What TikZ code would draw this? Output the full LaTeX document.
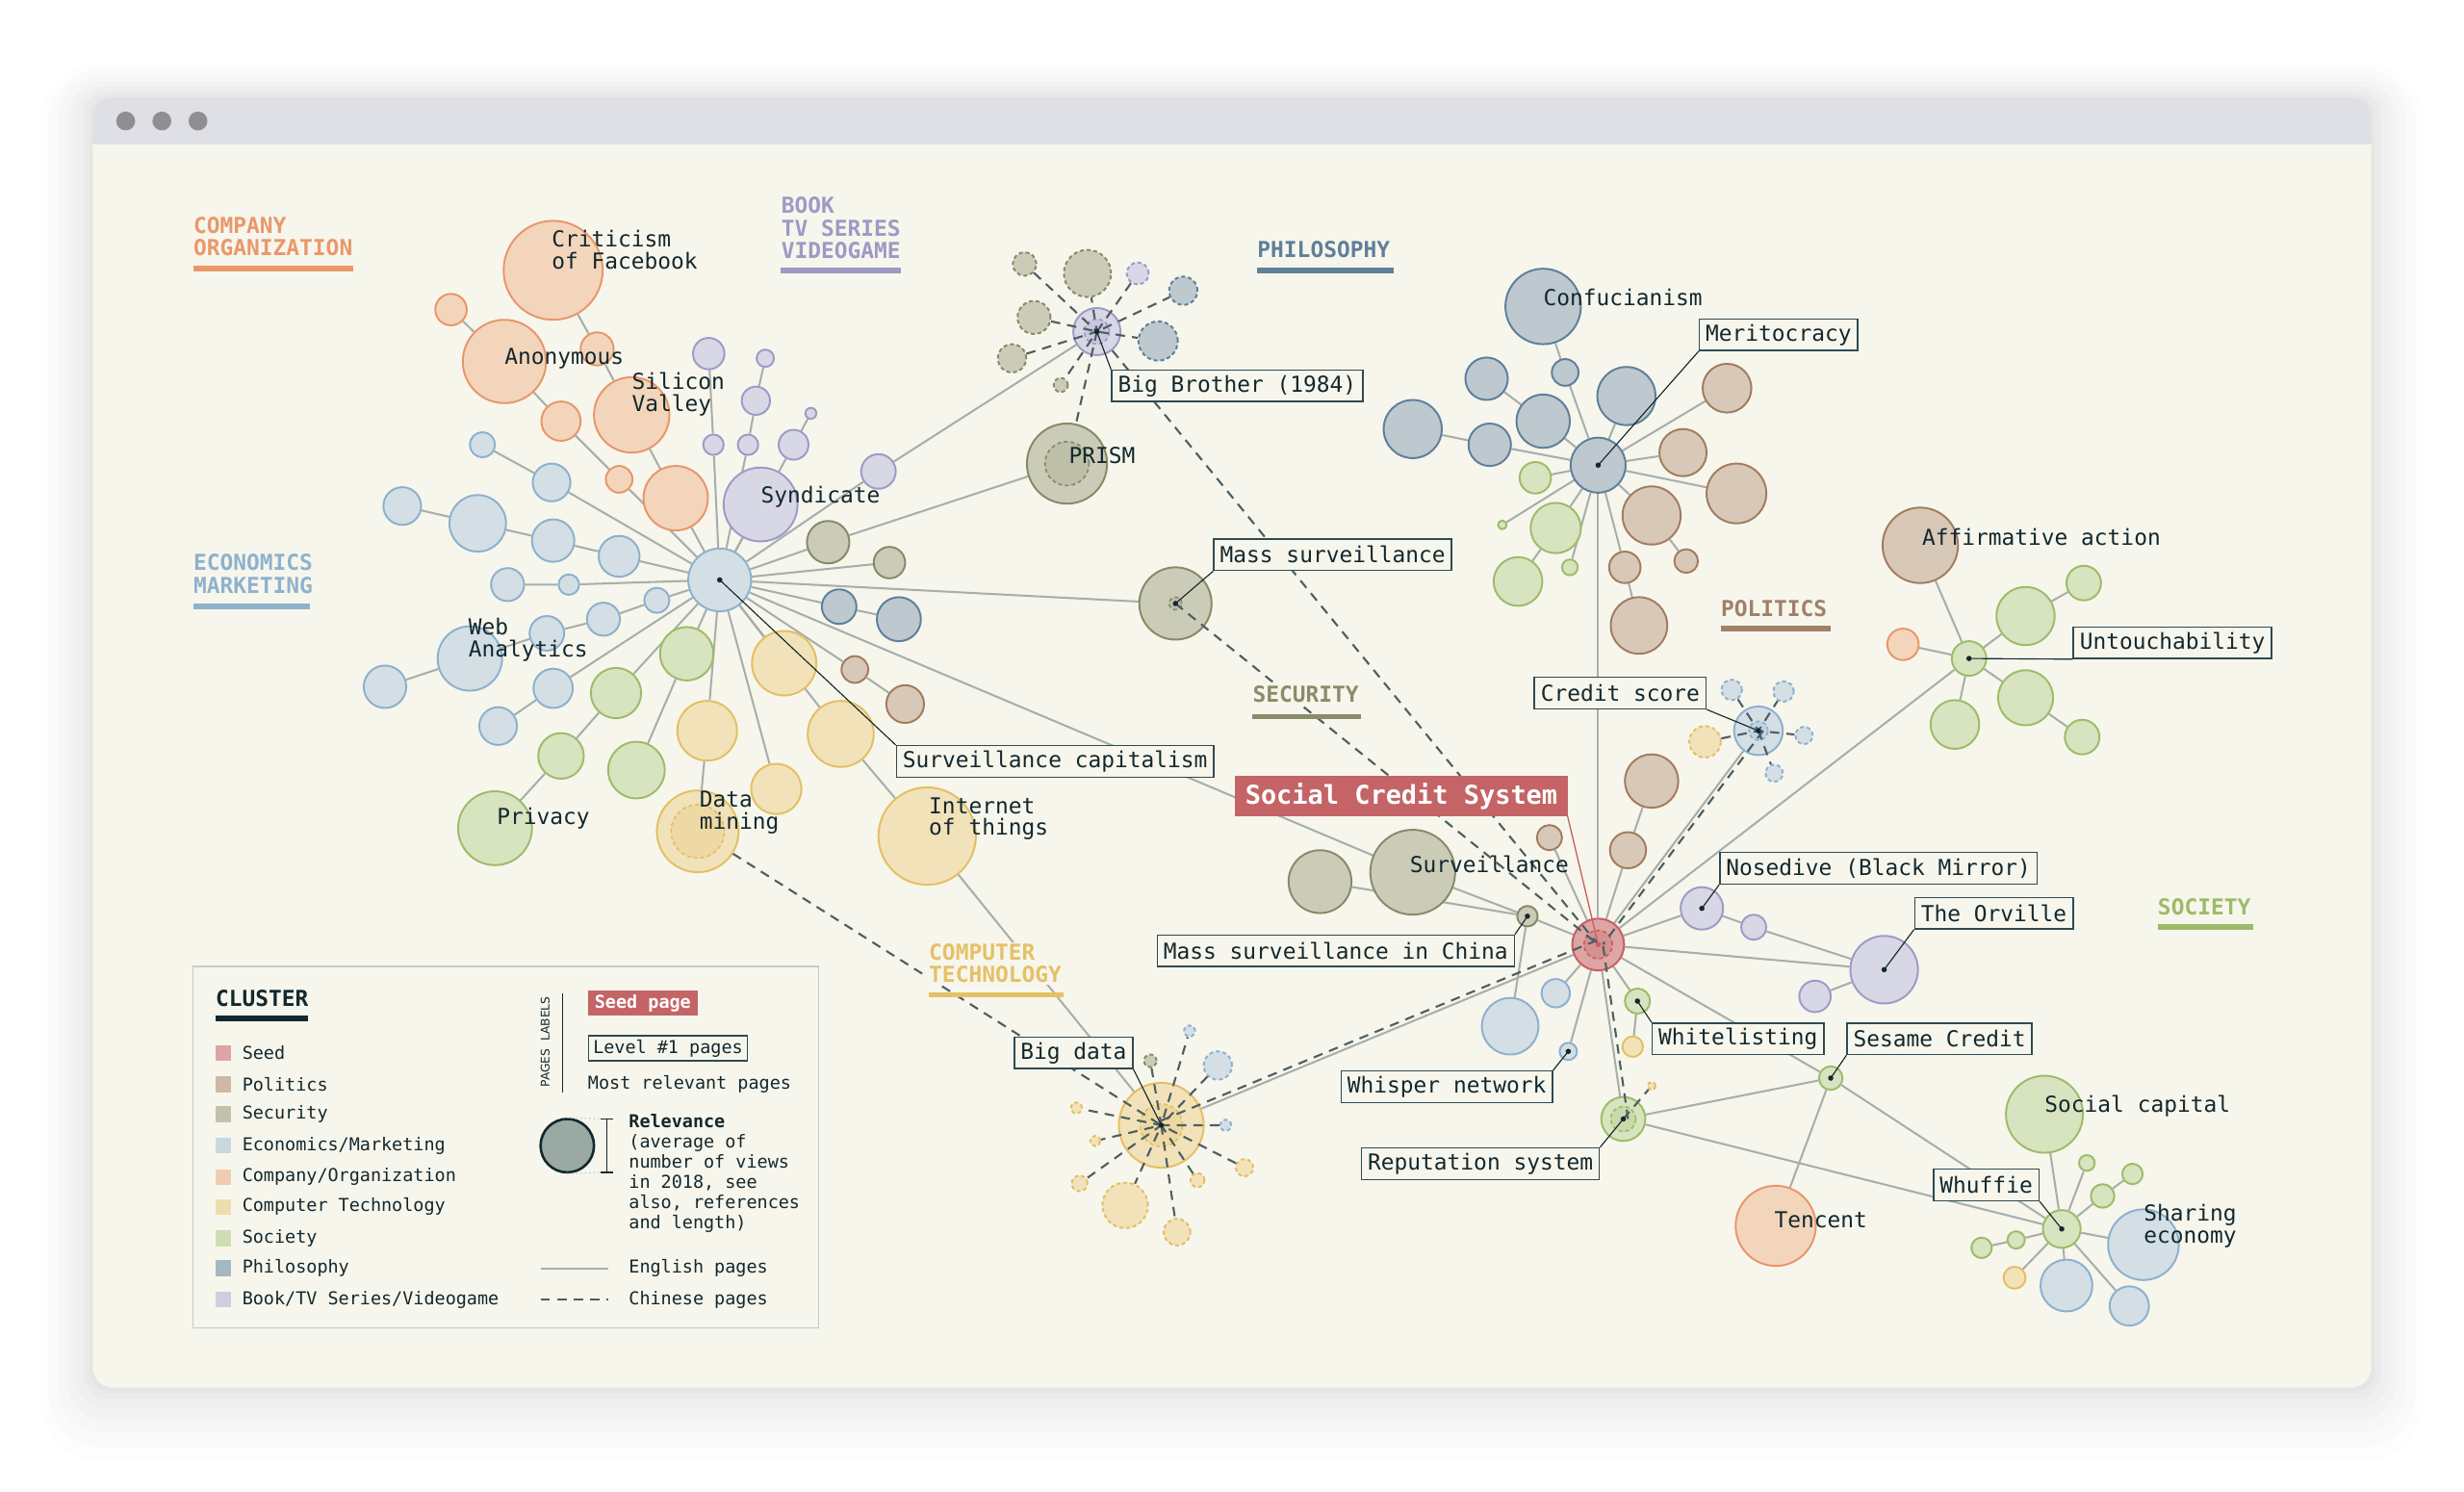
\documentclass[tikz,border=0pt]{standalone}
\usepackage{fontspec}
\setmainfont{DejaVu Sans Mono}
\newfontfamily\sanslab{DejaVu Sans}
\pgfdeclarelayer{win}
\pgfdeclarelayer{links}
\pgfdeclarelayer{front}
\pgfsetlayers{win,links,main,front}

\definecolor{bg}{HTML}{F7F6EC}
\definecolor{barC}{HTML}{DFE0E5}
\definecolor{dotC}{HTML}{8E8E93}
\definecolor{linkC}{HTML}{A7AFAB}
\definecolor{cnC}{HTML}{4D5F63}
\definecolor{ink}{HTML}{13282E}
\definecolor{boxC}{HTML}{2E4A52}
\definecolor{legC}{HTML}{C5CBC6}
\definecolor{relC}{HTML}{9BA9A4}
\definecolor{seedF}{HTML}{DDA5A4}\definecolor{seedS}{HTML}{C45F62}\definecolor{seedT}{HTML}{C46466}
\definecolor{polF}{HTML}{D8C8B7}\definecolor{polS}{HTML}{A27C60}\definecolor{polT}{HTML}{A0806A}
\definecolor{secF}{HTML}{CBCCB7}\definecolor{secS}{HTML}{878A68}\definecolor{secT}{HTML}{8A8C6A}
\definecolor{ecoF}{HTML}{D3DFE4}\definecolor{ecoS}{HTML}{8DB0CF}\definecolor{ecoT}{HTML}{8FB1CE}
\definecolor{comF}{HTML}{F3D5BC}\definecolor{comS}{HTML}{E9966A}\definecolor{comT}{HTML}{E9986B}
\definecolor{tecF}{HTML}{F1E2BA}\definecolor{tecS}{HTML}{E4BF63}\definecolor{tecT}{HTML}{E5C067}
\definecolor{socF}{HTML}{D8E3BF}\definecolor{socS}{HTML}{9DBC6A}\definecolor{socT}{HTML}{9DBA69}
\definecolor{phiF}{HTML}{BDC9CE}\definecolor{phiS}{HTML}{5E7F9C}\definecolor{phiT}{HTML}{5F7F9A}
\definecolor{booF}{HTML}{D8D7E5}\definecolor{booS}{HTML}{9D9BC7}\definecolor{booT}{HTML}{9C9AC6}

\newcommand\lblfont{\fontsize{14}{14}\selectfont}
\newcommand\catfont{\bfseries\fontsize{14}{14.5}\selectfont}
\newcommand\legfont{\fontsize{11.3}{12.8}\selectfont}

\tikzset{
  bub/.style  = {circle, inner sep=0pt, line width=1.2pt},
  seed/.style = {bub, draw=seedS, fill=seedF},
  pol/.style  = {bub, draw=polS, fill=polF},
  sec/.style  = {bub, draw=secS, fill=secF},
  eco/.style  = {bub, draw=ecoS, fill=ecoF},
  com/.style  = {bub, draw=comS, fill=comF},
  tec/.style  = {bub, draw=tecS, fill=tecF},
  soc/.style  = {bub, draw=socS, fill=socF},
  phi/.style  = {bub, draw=phiS, fill=phiF},
  boo/.style  = {bub, draw=booS, fill=booF},
  zh/.style   = {dash pattern=on 2.5pt off 1.8pt}, % chinese page only
  link/.style = {draw=linkC, line width=1.25pt},
  cn/.style   = {draw=cnC, line width=1.3pt, dash pattern=on 6pt off 4.5pt},
  leader/.style = {draw=ink, line width=0.7pt},
  lvl/.style  = {draw=boxC, fill=bg, line width=0.9pt, text=ink, font=\lblfont,
                 inner xsep=4pt, inner ysep=1.5pt, minimum height=20pt, anchor=west},
  ptag/.style = {text=ink, font=\lblfont, align=left, anchor=west, inner sep=0pt},
  cattl/.style = {font=\catfont, align=left, anchor=west, inner sep=1pt, fill=bg},
  catbar/.style = {line width=3.5pt},
  legtx/.style = {text=ink, font=\legfont, anchor=west, inner sep=0pt}
}

\begin{document}
\begin{tikzpicture}[x=1pt, y=-1pt]
\useasboundingbox (0,0) rectangle (1568,949);

\begin{pgfonlayer}{win}
\fill[white] (0,0) rectangle (1568,949);
% window shadow
\fill[black, opacity=0.008, rounded corners=40] (25,40) rectangle (1543,930);
\fill[black, opacity=0.010, rounded corners=34] (31,44) rectangle (1537,921);
\fill[black, opacity=0.012, rounded corners=28] (37,48) rectangle (1531,912);
\fill[black, opacity=0.014, rounded corners=23] (43,52) rectangle (1525,904);
\fill[black, opacity=0.016, rounded corners=19] (48,55) rectangle (1520,896);
\fill[black, opacity=0.018, rounded corners=16] (53,58) rectangle (1515,890);
\fill[black, opacity=0.02, rounded corners=14] (57,61) rectangle (1511,886);
\fill[bg, rounded corners=13] (59,62) rectangle (1509,883);
\begin{scope}
\clip[rounded corners=13] (59,62) rectangle (1509,883);
\fill[barC] (59,62) rectangle (1509,92);
\end{scope}
\fill[dotC] (80,77) circle[radius=6pt] (103,77) circle[radius=6pt] (126,77) circle[radius=6pt];
\end{pgfonlayer}

% economics hub and its ring
\node[eco, minimum size=40] (sc) at (458,369) {};
\node[eco, minimum size=24] (e1) at (351,307) {};
\node[eco, minimum size=16] (e2) at (307,283) {};
\node[eco, minimum size=26] (e3) at (394,354) {};
\node[eco, minimum size=27] (e4) at (352,344) {};
\node[eco, minimum size=36] (e5) at (304,333) {};
\node[eco, minimum size=24] (e6) at (256,322) {};
\node[eco, minimum size=13] (e7) at (362,372) {};
\node[eco, minimum size=21] (e8) at (323,372) {};
\node[eco, minimum size=16] (e9) at (418,382) {};
\node[eco, minimum size=21] (e10) at (384,394) {};
\node[eco, minimum size=22] (e11) at (348,403) {};
\node[eco, minimum size=41] (wa) at (299,419) {};
\node[eco, minimum size=27] (e12) at (245,437) {};
\node[eco, minimum size=25] (e13) at (352,438) {};
\node[eco, minimum size=24] (e14) at (317,462) {};
\node[soc, minimum size=32] (s1) at (392,441) {};
\node[soc, minimum size=29] (s2) at (357,481) {};
\node[soc, minimum size=47] (pv) at (315,527) {};
\node[soc, minimum size=34] (s3) at (437,416) {};
\node[soc, minimum size=36] (s4) at (405,490) {};
\node[tec, minimum size=38] (t1) at (450,465) {};
\node[tec, minimum size=52] (dm) at (444,529) {};
\node[tec, minimum size=32] (t2) at (494,502) {};
\node[tec, minimum size=41] (t3) at (499,422) {};
\node[tec, minimum size=42] (t4) at (535,467) {};
\node[tec, minimum size=62] (iot) at (590,532) {};
\node[pol, minimum size=17] (p1) at (544,426) {};
\node[pol, minimum size=24] (p2) at (576,448) {};
\node[phi, minimum size=22] (f1) at (534,386) {};
\node[phi, minimum size=28] (f2) at (572,394) {};
\node[sec, minimum size=27] (x1) at (527,345) {};
\node[sec, minimum size=20] (x2) at (566,358) {};
\node[boo, minimum size=47] (sy) at (484,321) {};
\node[boo, minimum size=13] (b1) at (454,283) {};
\node[boo, minimum size=20] (b2) at (451,225) {};
\node[boo, minimum size=13] (b3) at (476,283) {};
\node[boo, minimum size=18] (b4) at (481,255) {};
\node[boo, minimum size=11] (b5) at (487,228) {};
\node[boo, minimum size=19] (b6) at (505,283) {};
\node[boo, minimum size=7] (b7) at (516,263) {};
\node[boo, minimum size=22] (b8) at (559,300) {};
\node[com, minimum size=63] (cf) at (352,172) {};
\node[com, minimum size=21] (c1) at (380,222) {};
\node[com, minimum size=48] (sv) at (402,264) {};
\node[com, minimum size=41] (c2) at (430,317) {};
\node[com, minimum size=17] (c3) at (394,305) {};
\node[com, minimum size=25] (c4) at (357,268) {};
\node[com, minimum size=53] (an) at (321,230) {};
\node[com, minimum size=20] (c5) at (287,197) {};

% big brother group
\node[boo, minimum size=30] (bb) at (698,211) {};
\node[sec, zh, minimum size=15] (g1) at (652,168) {};
\node[sec, zh, minimum size=30] (g2) at (692,174) {};
\node[boo, zh, minimum size=14] (g3) at (724,174) {};
\node[phi, zh, minimum size=18] (g4) at (753,185) {};
\node[sec, zh, minimum size=21] (g5) at (658,202) {};
\node[phi, zh, minimum size=25] (g6) at (737,217) {};
\node[sec, zh, minimum size=18] (g7) at (644,228) {};
\node[sec, zh, minimum size=9] (g8) at (675,245) {};
\node[sec, minimum size=51] (pr) at (679,295) {};
\node[sec, minimum size=46] (ms) at (748,384) {};

% meritocracy group
\node[phi, minimum size=35] (mer) at (1017,296) {};
\node[phi, minimum size=48] (cz) at (982,195) {};
\node[phi, minimum size=17] (h1) at (996,237) {};
\node[phi, minimum size=27] (h2) at (946,241) {};
\node[phi, minimum size=34] (h3) at (982,268) {};
\node[phi, minimum size=37] (h4) at (899,273) {};
\node[phi, minimum size=27] (h5) at (948,283) {};
\node[phi, minimum size=37] (h6) at (1035,252) {};
\node[pol, minimum size=31] (q1) at (1099,247) {};
\node[pol, minimum size=30] (q2) at (1071,288) {};
\node[pol, minimum size=38] (q3) at (1105,314) {};
\node[pol, minimum size=37] (q4) at (1051,328) {};
\node[pol, minimum size=15] (q5) at (1073,357) {};
\node[pol, minimum size=20] (q6) at (1034,361) {};
\node[pol, minimum size=36] (q7) at (1043,398) {};
\node[soc, minimum size=20] (k1) at (977,304) {};
\node[soc, minimum size=32] (k2) at (990,336) {};
\node[soc, minimum size=5.5] (k3) at (956,334) {};
\node[soc, minimum size=10] (k4) at (999,361) {};
\node[soc, minimum size=31] (k5) at (966,370) {};

% untouchability group
\node[pol, minimum size=48] (aa) at (1222,347) {};
\node[soc, minimum size=22] (un) at (1253,419) {};
\node[soc, minimum size=37] (u1) at (1289,392) {};
\node[soc, minimum size=22] (u2) at (1326,371) {};
\node[com, minimum size=20] (u3) at (1211,410) {};
\node[soc, minimum size=35] (u4) at (1289,444) {};
\node[soc, minimum size=22] (u5) at (1325,469) {};
\node[soc, minimum size=31] (u6) at (1244,461) {};

% credit score
\node[eco, minimum size=31] (cs) at (1119,465) {};
\node[eco, zh, minimum size=13] (cs1) at (1102,439) {};
\node[eco, zh, minimum size=13] (cs2) at (1135,440) {};
\node[tec, zh, minimum size=20] (cs3) at (1085,472) {};
\node[eco, zh, minimum size=11] (cs4) at (1148,468) {};
\node[eco, zh, minimum size=11] (cs5) at (1129,492) {};

% seed and neighbours
\node[seed, minimum size=33] (scs) at (1017,601) {};
\node[pol, minimum size=23] (r1) at (1036,541) {};
\node[pol, minimum size=34] (r2) at (1051,497) {};
\node[pol, minimum size=16] (r3) at (986,533) {};
\node[sec, minimum size=40] (su2) at (840,561) {};
\node[sec, minimum size=54] (su) at (899,555) {};
\node[sec, minimum size=13] (mc) at (972,583) {};
\node[eco, minimum size=18] (w1) at (990,632) {};
\node[eco, minimum size=36] (w2) at (961,653) {};
\node[eco, minimum size=11] (wn) at (998,669) {};
\node[soc, minimum size=16] (wl) at (1042,637) {};
\node[tec, minimum size=13] (wl2) at (1039,666) {};
\node[boo, minimum size=27] (nd) at (1083,578) {};
\node[boo, minimum size=16] (nd2) at (1116,590) {};
\node[boo, minimum size=43] (orv) at (1199,617) {};
\node[boo, minimum size=20] (orv2) at (1155,634) {};
\node[soc, minimum size=15] (ses) at (1165,686) {};
\node[soc, minimum size=28] (rep) at (1033,712) {};
\node[tec, zh, minimum size=5] (rep1) at (1051,691) {};
\node[com, minimum size=51] (ten) at (1130,780) {};

% whuffie group
\node[soc, minimum size=24] (wh) at (1312,782) {};
\node[soc, minimum size=49] (scap) at (1301,709) {};
\node[soc, minimum size=10] (wf1) at (1328,740) {};
\node[soc, minimum size=15] (wf2) at (1338,761) {};
\node[soc, minimum size=13] (wf3) at (1357,747) {};
\node[eco, minimum size=45] (se) at (1364,792) {};
\node[eco, minimum size=25] (wf4) at (1355,831) {};
\node[eco, minimum size=33] (wf5) at (1315,818) {};
\node[tec, minimum size=14] (wf6) at (1282,813) {};
\node[soc, minimum size=11] (wf7) at (1283,789) {};
\node[soc, minimum size=13] (wf8) at (1261,794) {};

% big data group
\node[tec, minimum size=54] (bd) at (739,716) {};
\node[sec, zh, minimum size=8] (d1) at (732,675) {};
\node[eco, zh, minimum size=7] (d2) at (757,656) {};
\node[eco, zh, minimum size=18] (d3) at (775,678) {};
\node[tec, zh, minimum size=7] (d4) at (685,705) {};
\node[eco, zh, minimum size=7] (d5) at (780,716) {};
\node[tec, zh, minimum size=6.5] (d6) at (697,726) {};
\node[tec, zh, minimum size=11] (d7) at (792,743) {};
\node[tec, zh, minimum size=10] (d8) at (687,753) {};
\node[tec, zh, minimum size=9] (d9) at (762,751) {};
\node[tec, zh, minimum size=29] (d10) at (716,767) {};
\node[tec, zh, minimum size=17] (d11) at (749,784) {};

% inner rings of pages with a chinese version
\draw[tecS, zh, fill=tecS!25!tecF, line width=1pt] (dm) circle[radius=17pt];
\draw[tecS, zh, fill=tecS!25!tecF, line width=1pt] (bd) circle[radius=13.5pt];
\draw[secS, zh, fill=secS!20!secF, line width=1pt] (pr) circle[radius=14pt];
\draw[secS, zh, fill=secS!20!secF, line width=1pt] (ms) circle[radius=4pt];
\draw[booS, zh, fill=booS!25!booF, line width=1pt] (bb) circle[radius=8pt];
\draw[ecoS, zh, fill=ecoS!25!ecoF, line width=1pt] (cs) circle[radius=6pt];
\draw[seedS, zh, fill=seedS!30!seedF, line width=1pt] (scs) circle[radius=9pt];
\draw[socS, zh, fill=socS!25!socF, line width=1pt] (rep) circle[radius=8pt];

\begin{pgfonlayer}{links}
\draw[link] (sc) -- (e1) -- (e2);
\draw[link] (sc) -- (e3) -- (e4) -- (e5) -- (e6);
\draw[link] (sc) -- (e7) -- (e8);
\draw[link] (sc) -- (e9) -- (e10) -- (e11) -- (wa) -- (e12);
\draw[link] (sc) -- (e13) -- (e14);
\draw[link] (sc) -- (s1) -- (s2) -- (pv);
\draw[link] (sc) -- (s3) -- (s4);
\draw[link] (sc) -- (t1) -- (dm);
\draw[link] (sc) -- (t2);
\draw[link] (sc) -- (t3);
\draw[link] (sc) -- (t4) -- (iot) -- (bd);
\draw[link] (sc) -- (p1) -- (p2);
\draw[link] (sc) -- (f1) -- (f2);
\draw[link] (sc) -- (x1) -- (pr);
\draw[link] (sc) -- (x2);
\draw[link] (sc) -- (sy);
\draw[link] (sc) -- (b1) -- (b2);
\draw[link] (sc) -- (b3) -- (b4) -- (b5);
\draw[link] (sc) -- (b6) -- (b7);
\draw[link] (sc) -- (b8) -- (bb);
\draw[link] (sc) -- (c2) -- (sv) -- (c1) -- (cf);
\draw[link] (sc) -- (c3) -- (c4) -- (an) -- (c5);
\draw[link] (sc) -- (ms);
\draw[link] (sc) -- (su) -- (mc) -- (scs);
\draw[link] (su2) -- (mc) -- (w2);
\draw[link] (mer) -- (h1) -- (cz);
\draw[link] (mer) -- (h3) -- (h2);
\draw[link] (mer) -- (h5) -- (h4);
\draw[link] (mer) -- (h6);
\draw[link] (mer) -- (q1);
\draw[link] (mer) -- (q2);
\draw[link] (mer) -- (q3);
\draw[link] (mer) -- (q4) -- (q5);
\draw[link] (mer) -- (q6) -- (q7);
\draw[link] (mer) -- (k1);
\draw[link] (mer) -- (k2) -- (k5);
\draw[link] (mer) -- (k3);
\draw[link] (mer) -- (k4);
\draw[link] (mer) -- (scs);
\draw[link] (un) -- (aa);
\draw[link] (un) -- (u1) -- (u2);
\draw[link] (un) -- (u3);
\draw[link] (un) -- (u4) -- (u5);
\draw[link] (un) -- (u6);
\draw[link] (un) -- (scs);
\draw[link] (scs) -- (r1) -- (r2);
\draw[link] (scs) -- (r3);
\draw[link] (scs) -- (cs);
\draw[link] (scs) -- (w1);
\draw[link] (scs) -- (wn);
\draw[link] (scs) -- (wl) -- (wl2);
\draw[link] (scs) -- (nd) -- (nd2) -- (orv);
\draw[link] (scs) -- (orv) -- (orv2);
\draw[link] (scs) -- (ses) -- (ten);
\draw[link] (scs) -- (rep) -- (ses) -- (wh);
\draw[link] (rep) -- (wh);
\draw[link] (scs) -- (bd);
\draw[link] (wh) -- (scap);
\draw[link] (wh) -- (wf1);
\draw[link] (wh) -- (wf2) -- (wf3);
\draw[link] (wh) -- (se);
\draw[link] (wh) -- (wf4);
\draw[link] (wh) -- (wf5);
\draw[link] (wh) -- (wf6);
\draw[link] (wh) -- (wf7) -- (wf8);
\end{pgfonlayer}

\begin{pgfonlayer}{front}
% chinese links
\draw[cn] (g1) -- (bb.center) -- (g2) (g3) -- (bb.center) -- (g4) (g5) -- (bb.center) -- (g6)
  (g7) -- (bb.center) -- (g8) (bb.center) -- (pr);
\draw[cn] (bb) -- (scs.center);
\draw[cn] (ms.center) -- (scs.center);
\draw[cn] (dm) -- (bd.center);
\draw[cn] (d1) -- (bd.center) -- (d2) (d3) -- (bd.center) -- (d4) (d5) -- (bd.center) -- (d6)
  (d7) -- (bd.center) -- (d8) (d9) -- (bd.center) -- (d10) (bd.center) -- (d11);
\draw[cn] ([yshift=3pt]bd.center) -- ([yshift=3pt]scs.center);
\draw[cn] (cs1) -- (cs.center) -- (cs2) (cs3) -- (cs.center) -- (cs4) (cs.center) -- (cs5);
\draw[cn] ([xshift=3pt]cs.center) -- ([xshift=3pt]scs.center);
\draw[cn] ([xshift=3pt]rep.center) -- ([xshift=3pt]scs.center);
\draw[cn] (rep.center) -- (rep1);

% level #1 labels
\node[lvl] (bbL) at (707,245.5) {Big Brother (1984)};
\node[lvl] (msL) at (772,353) {Mass surveillance};
\node[lvl] (merL) at (1081,213) {Meritocracy};
\node[lvl] (scL) at (570,484.5) {Surveillance capitalism};
\node[lvl] (csL) at (976,441) {Credit score};
\node[lvl] (unL) at (1319,409) {Untouchability};
\node[lvl] (ndL) at (1094,552.5) {Nosedive (Black Mirror)};
\node[lvl] (orvL) at (1218,581) {The Orville};
\node[lvl] (mcL) at (736,605) {Mass surveillance in China};
\node[lvl] (bdL) at (645,670) {Big data};
\node[lvl] (wlL) at (1051,661) {Whitelisting};
\node[lvl] (sesL) at (1175,661) {Sesame Credit};
\node[lvl] (wnL) at (853,691.5) {Whisper network};
\node[lvl] (repL) at (866,740.5) {Reputation system};
\node[lvl] (whL) at (1230,754) {Whuffie};
\node[lvl, fill=seedT, draw=seedT, text=white, inner xsep=6pt, minimum height=25pt,
  font=\bfseries\fontsize{16.5}{16.5}\selectfont] (scsL) at (786,506.5) {Social Credit System};

\draw[leader] (bb.center) -- (bbL.north west);
\draw[leader] (ms.center) -- (msL.south west);
\draw[leader] (mer.center) -- (merL.south west);
\draw[leader] (sc.center) -- (scL.north west);
\draw[leader] (cs.center) -- (csL.south east);
\draw[leader] (un.center) -- (unL.south west);
\draw[leader] (nd.center) -- (ndL.south west);
\draw[leader] (orv.center) -- (orvL.south west);
\draw[leader] (mc.center) -- (mcL.north east);
\draw[leader] (bd.center) -- (bdL.south east);
\draw[leader] (wl.center) -- (wlL.north west);
\draw[leader] (ses.center) -- (sesL.south west);
\draw[leader] (wn.center) -- (wnL.north east);
\draw[leader] (rep.center) -- (repL.north east);
\draw[leader] (wh.center) -- (whL.south east);
\draw[seedS, line width=0.8pt] (scsL.south east) -- (scs.center);
\fill[ink] (bb) circle[radius=1.7pt] (ms) circle[radius=1.7pt] (mer) circle[radius=1.7pt]
  (sc) circle[radius=1.7pt] (cs) circle[radius=1.7pt] (un) circle[radius=1.7pt]
  (nd) circle[radius=1.7pt] (orv) circle[radius=1.7pt] (mc) circle[radius=1.7pt]
  (bd) circle[radius=1.7pt] (wl) circle[radius=1.7pt] (ses) circle[radius=1.7pt]
  (wn) circle[radius=1.7pt] (rep) circle[radius=1.7pt] (wh) circle[radius=1.7pt];
\fill[seedS] (scs) circle[radius=1.7pt];

% most relevant pages
\node[ptag] (cfT) at (351,159) {Criticism\\of Facebook};
\node[ptag] (anT) at (321,228) {Anonymous};
\node[ptag] (svT) at (402,251) {Silicon\\Valley};
\node[ptag] (syT) at (484,316) {Syndicate};
\node[ptag] (waT) at (298,407) {Web\\Analytics};
\node[ptag] (pvT) at (316,521) {Privacy};
\node[ptag] (dmT) at (445,517) {Data\\mining};
\node[ptag] (iotT) at (591,521) {Internet\\of things};
\node[ptag] (prT) at (680,290) {PRISM};
\node[ptag] (czT) at (982,189) {Confucianism};
\node[ptag] (aaT) at (1223,342) {Affirmative action};
\node[ptag] (suT) at (897,550) {Surveillance};
\node[ptag] (tenT) at (1129,776) {Tencent};
\node[ptag] (scapT) at (1301,704) {Social capital};
\node[ptag] (seT) at (1364,780) {Sharing\\economy};

% cluster titles
\node[cattl, text=comT] (comC) at (122,150.5) {COMPANY\\ORGANIZATION};
\node[cattl, text=booT] (booC) at (496,145) {BOOK\\TV SERIES\\VIDEOGAME};
\node[cattl, text=phiT] (phiC) at (799,159) {PHILOSOPHY};
\node[cattl, text=ecoT] (ecoC) at (122,365) {ECONOMICS\\MARKETING};
\node[cattl, text=polT] (polC) at (1094,387) {POLITICS};
\node[cattl, text=secT] (secC) at (796,442) {SECURITY};
\node[cattl, text=tecT] (tecC) at (590,613) {COMPUTER\\TECHNOLOGY};
\node[cattl, text=socT] (socC) at (1372,577) {SOCIETY};
\draw[catbar, comT] (123,171) -- (225,171);
\draw[catbar, booT] (497,172) -- (573,172);
\draw[catbar, phiT] (800,172) -- (887,172);
\draw[catbar, ecoT] (123,386) -- (197,386);
\draw[catbar, polT] (1095,400) -- (1165,400);
\draw[catbar, secT] (797,456) -- (866,456);
\draw[catbar, tecT] (591,633) -- (677,633);
\draw[catbar, socT] (1373,590) -- (1434,590);

% legend
\draw[legC, fill=bg, line width=0.8pt] (123,615) rectangle (521,845);
\node[legtx, font=\catfont] (clT) at (137,635) {CLUSTER};
\draw[ink, line width=4pt] (137,648) -- (196,648);
\fill[seedF] (137,665) rectangle (147,675);
\node[legtx] (lg1) at (154,670) {Seed};
\fill[polF!80!polS] (137,685) rectangle (147,695);
\node[legtx] (lg2) at (154,690) {Politics};
\fill[secF!85!secS] (137,704) rectangle (147,714);
\node[legtx] (lg3) at (154,709) {Security};
\fill[ecoF!85!ecoS] (137,724) rectangle (147,734);
\node[legtx] (lg4) at (154,729) {Economics/Marketing};
\fill[comF!85!comS] (137,744) rectangle (147,754);
\node[legtx] (lg5) at (154,749) {Company/Organization};
\fill[tecF!85!tecS] (137,763) rectangle (147,773);
\node[legtx] (lg6) at (154,768) {Computer Technology};
\fill[socF!85!socS] (137,783) rectangle (147,793);
\node[legtx] (lg7) at (154,788) {Society};
\fill[phiF!75!phiS] (137,802) rectangle (147,812);
\node[legtx] (lg8) at (154,807) {Philosophy};
\fill[booF!85!booS] (137,822) rectangle (147,832);
\node[legtx] (lg9) at (154,827) {Book/TV Series/Videogame};

\node[rotate=90, text=ink, font=\sanslab\fontsize{7.5}{7.5}\selectfont, inner sep=0pt] (plT) at (347,663) {PAGES\ \ LABELS};
\draw[ink, line width=0.8pt] (358,632) -- (358,695);
\node[lvl, fill=seedT, draw=seedT, text=white, minimum height=15pt, inner ysep=1pt,
  font=\bfseries\legfont] (spL) at (374,638.5) {Seed page};
\node[lvl, minimum height=16pt, inner xsep=3pt, inner ysep=1pt, font=\legfont] (l1L) at (374,667) {Level \#1 pages};
\node[legtx] (mrT) at (374,690) {Most relevant pages};

\node[bub, draw=ink, fill=relC, line width=1.6pt, minimum size=34] (rel) at (361,729) {};
\draw[legC, dotted, line width=0.8pt] (rel.north) -- (383,712) (rel.south) -- (383,746);
\draw[ink, line width=0.8pt] (386,712) -- (386,746) (382,712) -- (390,712) (382,746) -- (390,746);
\node[legtx, anchor=north west, align=left] (relT) at (400,709)
  {\textbf{Relevance}\\(average of\\number of views\\in 2018, see\\also, references\\and length)};
\coordinate (en1) at (344,807);
\coordinate (en2) at (387,807);
\draw[link] (en1) -- (en2);
\node[legtx] (enT) at (400,807) {English pages};
\coordinate (zh1) at (344,827);
\coordinate (zh2) at (387,827);
\draw[cn] (zh1) -- (zh2);
\node[legtx] (zhT) at (400,827) {Chinese pages};
\end{pgfonlayer}
\end{tikzpicture}
\end{document}
